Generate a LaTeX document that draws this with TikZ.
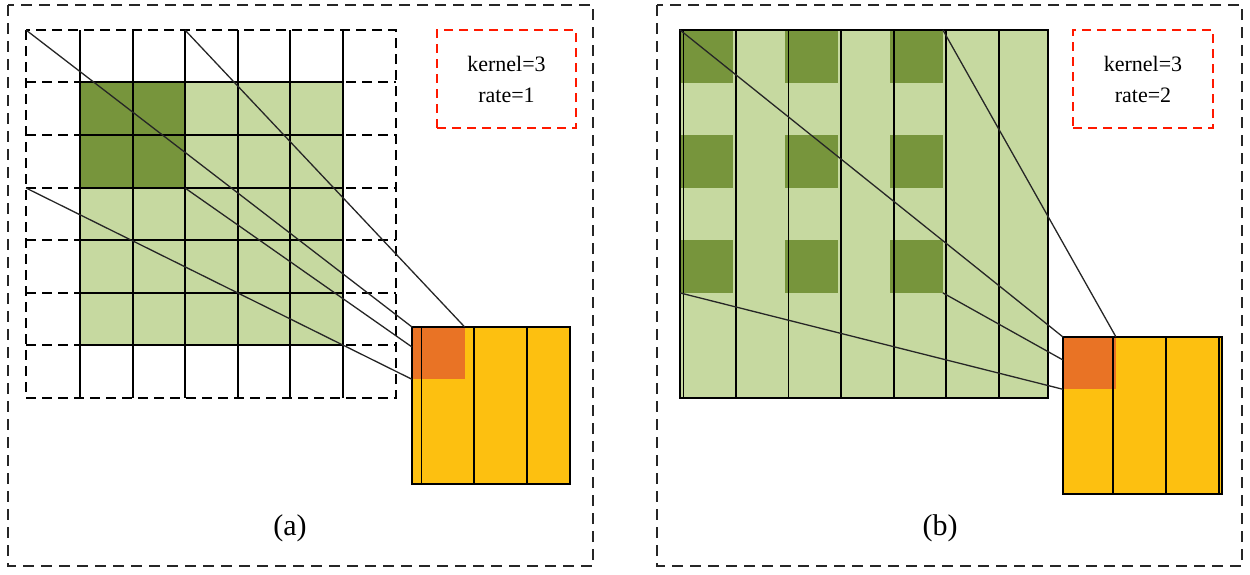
\documentclass[tikz,border=0pt]{standalone}
\usepackage{fontspec}
\setmainfont{Liberation Serif}
\begin{document}
\begin{tikzpicture}[x=1pt,y=-1pt,line width=1.6pt,
  panel/.style={draw=black!85,dash pattern=on 11pt off 7pt,line width=1.5pt},
  lab/.style={draw=red!80!orange,dash pattern=on 9pt off 6pt,line width=1.3pt,align=center,font=\fontsize{22}{31}\selectfont,inner sep=0pt},
  conn/.style={line width=1.3pt,black!85}]
\definecolor{dg}{HTML}{77953C}
\definecolor{lg}{HTML}{C6D9A0}
\definecolor{og}{HTML}{E97325}
\definecolor{yl}{HTML}{FDC010}
\useasboundingbox (0,0) rectangle (1250,574);
% panels
\draw[panel] (8,5) rectangle (593,566);
\draw[panel] (657,5) rectangle (1242,566);
\node[lab,minimum width=139pt,minimum height=98pt] (la) at (506.5,79) {kernel=3\\rate=1};
\node[lab,minimum width=140pt,minimum height=98pt] (lb) at (1143,79) {kernel=3\\rate=2};
\node[font=\fontsize{30}{30}\selectfont] (ta) at (290,528) {(a)};
\node[font=\fontsize{30}{30}\selectfont] (tb) at (940,528) {(b)};
% ---- left grid
\fill[lg] (80,82) rectangle (343,345);
\fill[dg] (80,82) rectangle (185,188);
\foreach \x in {80,133,185,238,290,343} \draw (\x,30) -- (\x,398);
\foreach \y in {82,135,188,240,293,345} {
  \draw[dash pattern=on 10pt off 6pt] (26,\y) -- (396,\y);
  \draw (80,\y) -- (343,\y);}
\draw[dash pattern=on 10pt off 6pt] (26,30) rectangle (396,398);
% left output
\fill[yl] (412,327) rectangle (570,484);
\fill[og] (412,327) rectangle (464.7,379.3);
\draw (412,327) grid[xstep=52.67,ystep=52.33] (570,484);
\draw (412,327) rectangle (570,484);
\coordinate (a1) at (26,30); \coordinate (a2) at (185,30);
\coordinate (a3) at (26,188); \coordinate (a4) at (185,188);
\coordinate (o1) at (412,327); \coordinate (o2) at (464.7,327);
\coordinate (o3) at (412,379.3); \coordinate (o4) at (412,347);
\draw[conn] (a1) -- (o1); \draw[conn] (a2) -- (o2);
\draw[conn] (a3) -- (o3); \draw[conn] (a4) -- (o4);
% ---- right grid
\fill[lg] (680,30) rectangle (1048,398);
\foreach \i in {0,2,4} \foreach \j in {0,2,4}
  \fill[dg] (680+\i*52.57,30+\j*52.57) rectangle (680+\i*52.57+52.57,30+\j*52.57+52.57);
\draw (680,30) grid[xstep=52.57,ystep=52.57] (1048,398);
\draw (680,30) rectangle (1048,398);
% right output
\fill[yl] (1063,337) rectangle (1222,494);
\fill[og] (1063,337) rectangle (1116,389.3);
\draw (1063,337) grid[xstep=53,ystep=52.33] (1222,494);
\draw (1063,337) rectangle (1222,494);
\coordinate (b1) at (680,30); \coordinate (b2) at (942.9,30);
\coordinate (b3) at (680,292.9); \coordinate (b4) at (942.9,292.9);
\coordinate (p1) at (1063,337); \coordinate (p2) at (1116,337);
\coordinate (p3) at (1063,389.3); \coordinate (p4) at (1063,360);
\draw[conn] (b1) -- (p1); \draw[conn] (b2) -- (p2);
\draw[conn] (b3) -- (p3); \draw[conn] (b4) -- (p4);
\end{tikzpicture}
\end{document}
